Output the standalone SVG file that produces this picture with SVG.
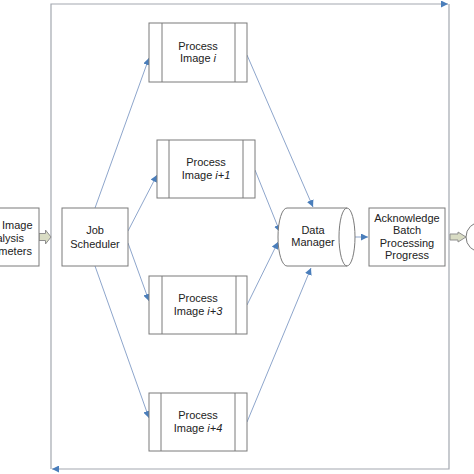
<svg xmlns="http://www.w3.org/2000/svg" width="474" height="474" viewBox="0 0 474 474">
<defs>
<marker id="ah" viewBox="0 0 10 10" refX="10" refY="5" markerWidth="7" markerHeight="7" markerUnits="userSpaceOnUse" orient="auto"><path d="M0,0 L10,5 L0,10 z" fill="#4a7ebb"/></marker>
<style>
.box{fill:#fff;stroke:#7a7a7a;stroke-width:1}
.in{stroke:#7a7a7a;stroke-width:1;fill:none}
.t{font-family:"Liberation Sans",Arial,sans-serif;font-size:11px;fill:#222;text-anchor:middle}
.c{fill:none;stroke:#8ea6cc;stroke-width:1;marker-end:url(#ah)}
.f{fill:none;stroke:#a3a8b0;stroke-width:1.2;marker-end:url(#ah)}
.blk{fill:#d9dcc4;stroke:#8f8f8f;stroke-width:1}
</style>
</defs>
<rect width="474" height="474" fill="#fff"/>
<g id="connectors">
<path class="f" d="M51,469 L51,4 L448,4"/>
<path class="f" d="M449,4 L449,469 L52,469"/>
<path class="c" d="M95,208 L149,58"/>
<path class="c" d="M128,231 L157,175"/>
<path class="c" d="M128,243 L149,301"/>
<path class="c" d="M95,266 L149,418"/>
<path class="c" d="M247,55 L313,207"/>
<path class="c" d="M255,170 L280,232"/>
<path class="c" d="M247,305 L278,242"/>
<path class="c" d="M247,422 L311,268"/>
<path class="c" d="M348,237 L368,237"/>
<path class="blk" d="M39,233.5 L45.5,233.5 L45.5,230 L51,237 L45.5,244 L45.5,240.5 L39,240.5 Z"/>
<path class="blk" d="M450,234 L458,234 L458,232 L466,237 L458,242 L458,240 L450,240 Z"/>
</g>
<g id="input-params">
<rect class="box" x="-40" y="208" width="79" height="58"/>
<text class="t" x="3.5" y="228.5">Input Image</text>
<text class="t" x="3.5" y="241.5">Analysis</text>
<text class="t" x="3.5" y="254.5">Parameters</text>
</g>
<g id="job-scheduler">
<rect class="box" x="62" y="208" width="66" height="58"/>
<text class="t" x="95" y="234">Job</text>
<text class="t" x="95" y="247.5">Scheduler</text>
</g>
<g id="process-i">
<rect class="box" x="149" y="23" width="98" height="59"/>
<path class="in" d="M162,23 V82 M235,23 V82"/>
<text class="t" x="198" y="49.5">Process</text>
<text class="t" x="198" y="62">Image <tspan font-style="italic">i</tspan></text>
</g>
<g id="process-i1">
<rect class="box" x="157" y="140" width="98" height="58"/>
<path class="in" d="M169,140 V198 M243,140 V198"/>
<text class="t" x="206" y="166">Process</text>
<text class="t" x="206" y="178.5">Image <tspan font-style="italic">i+1</tspan></text>
</g>
<g id="process-i3">
<rect class="box" x="149" y="276" width="98" height="58"/>
<path class="in" d="M162,276 V334 M236,276 V334"/>
<text class="t" x="198" y="302">Process</text>
<text class="t" x="198" y="314.5">Image <tspan font-style="italic">i+3</tspan></text>
</g>
<g id="process-i4">
<rect class="box" x="149" y="393" width="98" height="58"/>
<path class="in" d="M161,393 V451 M235,393 V451"/>
<text class="t" x="198" y="419">Process</text>
<text class="t" x="198" y="431.5">Image <tspan font-style="italic">i+4</tspan></text>
</g>
<g id="data-manager">
<path class="box" d="M287,208 L347,208 A8,29 0 0 1 347,266 L287,266 A9,29 0 0 1 287,208 Z"/>
<path class="in" d="M347,208 A8,29 0 0 0 347,266"/>
<text class="t" x="313" y="233.5">Data</text>
<text class="t" x="313" y="246">Manager</text>
</g>
<g id="acknowledge">
<rect class="box" x="369" y="208" width="76" height="58"/>
<text class="t" x="407" y="221.5">Acknowledge</text>
<text class="t" x="407" y="234">Batch</text>
<text class="t" x="407" y="246.5">Processing</text>
<text class="t" x="407" y="259">Progress</text>
</g>
<g id="end-node">
<circle class="box" cx="481" cy="237" r="15"/>
</g>
</svg>
